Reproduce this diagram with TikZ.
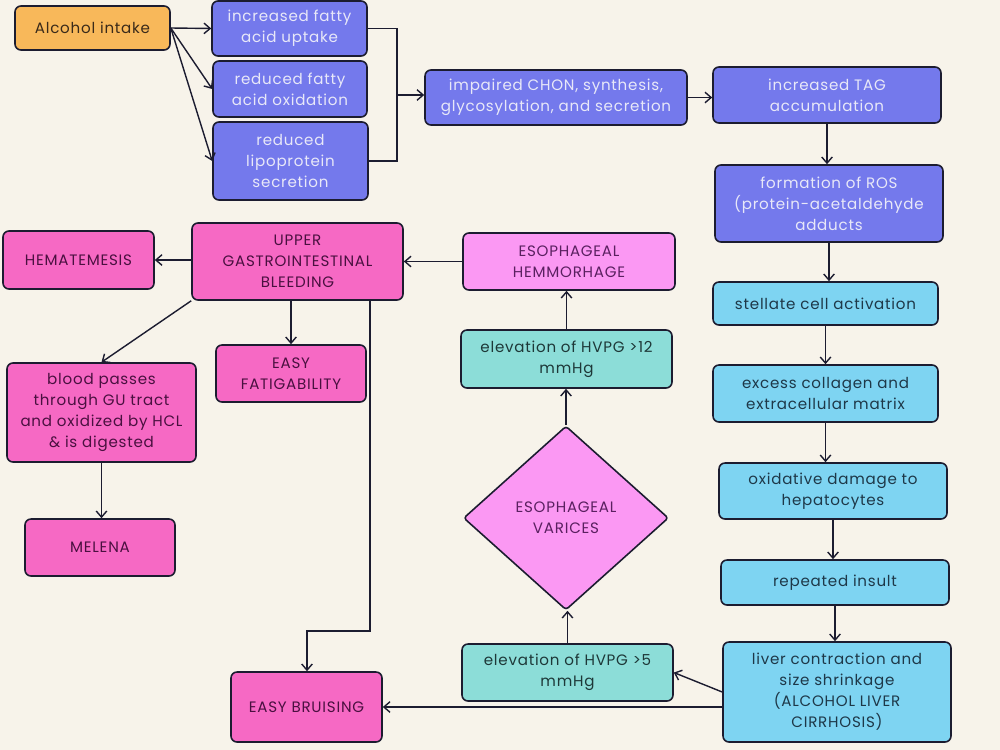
\documentclass[tikz,border=0pt]{standalone}
\usepackage{fontspec}
\setmainfont[LetterSpace=5]{Poppins}
\usetikzlibrary{arrows.meta,shapes.geometric}
\definecolor{bg}{HTML}{F7F3EA}
\definecolor{edge}{HTML}{1C1C30}
\definecolor{purpfill}{HTML}{7479EC}
\definecolor{purptext}{HTML}{E8E8F8}
\definecolor{orangefill}{HTML}{F8B85A}
\definecolor{orangetext}{HTML}{3A2A1A}
\definecolor{bluefill}{HTML}{7ED4F2}
\definecolor{bluetext}{HTML}{1E3848}
\definecolor{tealfill}{HTML}{8CDDD8}
\definecolor{tealtext}{HTML}{1E3838}
\definecolor{magfill}{HTML}{F669C4}
\definecolor{magtext}{HTML}{4A1040}
\definecolor{pinkfill}{HTML}{FB98F3}
\definecolor{pinktext}{HTML}{5A2060}
\tikzset{
  box/.style={draw=edge, line width=0.9pt, rounded corners=0.12cm, align=center,
    inner sep=1pt, font=\fontsize{8.6}{11.9}\selectfont},
  purpbox/.style={box, fill=purpfill, text=purptext},
  orangebox/.style={box, fill=orangefill, text=orangetext},
  bluebox/.style={box, fill=bluefill, text=bluetext},
  tealbox/.style={box, fill=tealfill, text=tealtext},
  magbox/.style={box, fill=magfill, text=magtext},
  pinkbox/.style={box, fill=pinkfill, text=pinktext},
  conn/.style={draw=edge, line width=0.8pt},
  arr/.style={conn, -{Straight Barb[length=3.5pt,width=6pt]}},
}
\newcommand\bx[7]{%
  \node[#6, minimum width={(#4-#2)*0.02cm}, minimum height={(#5-#3)*0.02cm}]
    (#1) at ({(#2+#4)/2},{(#3+#5)/2}) {#7};}
\begin{document}
\begin{tikzpicture}[x=0.02cm,y=-0.02cm]
\fill[bg] (0,0) rectangle (1000,750);
\useasboundingbox (0,0) rectangle (1000,750);

% top row
\bx{alc}{15}{6}{170}{50}{orangebox}{Alcohol intake}
\bx{fa1}{212}{1}{367}{56}{purpbox}{increased fatty\\acid uptake}
\bx{fa2}{213}{61}{367}{117}{purpbox}{reduced fatty\\acid oxidation}
\bx{fa3}{213}{122}{368}{200}{purpbox}{reduced\\lipoprotein\\secretion}
\bx{chon}{425}{70}{687}{125}{purpbox}{impaired CHON, synthesis,\\glycosylation, and secretion}
\bx{tag}{713}{67}{941}{123}{purpbox}{increased TAG\\accumulation}
\bx{ros}{715}{165}{943}{242}{purpbox}{formation of ROS\\(protein-acetaldehyde\\adducts}

% right column
\bx{stel}{713}{282}{938}{325}{bluebox}{stellate cell activation}
\bx{coll}{713}{365}{938}{422}{bluebox}{excess collagen and\\extracellular matrix}
\bx{oxd}{719}{463}{947}{519}{bluebox}{oxidative damage to\\hepatocytes}
\bx{rep}{721}{560}{949}{605}{bluebox}{repeated insult}
\bx{liv}{723}{642}{951}{742}{bluebox}{liver contraction and\\size shrinkage\\(ALCOHOL LIVER\\CIRRHOSIS)}

% middle column
\bx{hv5}{462}{644}{673}{701}{tealbox}{elevation of HVPG >5\\mmHg}
\node[draw=edge, line width=0.9pt, fill=pinkfill, text=pinktext, diamond, rounded corners=0.06cm,
  minimum width=4.1cm, minimum height=3.68cm, inner sep=0pt, align=center,
  font=\fontsize{8.6}{11.9}\selectfont] (var) at (566,518) {ESOPHAGEAL\\VARICES};
\bx{hv12}{461}{330}{672}{388}{tealbox}{elevation of HVPG >12\\mmHg}
\bx{hem}{463}{233}{675}{290}{pinkbox}{ESOPHAGEAL\\HEMMORHAGE}

% left part
\bx{ugib}{192}{223}{403}{300}{magbox}{UPPER\\GASTROINTESTINAL\\BLEEDING}
\bx{hema}{3}{231}{154}{289}{magbox}{HEMATEMESIS}
\bx{fat}{216}{345}{366}{402}{magbox}{EASY\\FATIGABILITY}
\bx{blood}{7}{363}{196}{462}{magbox}{blood passes\\through GU tract\\and oxidized by HCL\\\& is digested}
\bx{mel}{25}{519}{175}{576}{magbox}{MELENA}
\bx{bru}{231}{672}{382}{742}{magbox}{EASY BRUISING}

% connectors: top
\draw[arr] (alc.east) -- (fa1.west);
\draw[arr] (alc.east) -- (fa2.west);
\draw[arr] (alc.east) -- (fa3.west);
\coordinate (br) at (397,95);
\draw[conn] (fa1.east) -| (br);
\draw[conn] (fa3.east) -| (br);
\draw[arr] (br) -- (br -| chon.west);
\draw[arr] (chon.east) -- (chon.east -| tag.west);
\draw[arr] (tag.south) -- (tag.south |- ros.north);
\draw[arr] (ros.south) -- (ros.south |- stel.north);
\draw[arr] (stel.south) -- (stel.south |- coll.north);
\draw[arr] (coll.south) -- (coll.south |- oxd.north);
\draw[arr] (oxd.south) -- (oxd.south |- rep.north);
\draw[arr] (rep.south) -- (rep.south |- liv.north);

% bottom / middle
\draw[arr] (liv.west) -- (hv5.east);
\draw[arr] (liv.west |- bru.east) -- (bru.east);
\draw[arr] (hv5.north) -- (hv5.north |- var.south);
\draw[arr] (var.north) -- (var.north |- hv12.south);
\draw[arr] (hv12.north) -- (hv12.north |- hem.south);
\draw[arr] (hem.west) -- (hem.west -| ugib.east);

% left
\draw[arr] (ugib.west |- hema.east) -- (hema.east);
\draw[arr] (fat.north |- ugib.south) -- (fat.north);
\draw[arr] (ugib.south west) -- (blood.north);
\draw[arr] (blood.south) -- (blood.south |- mel.north);
\coordinate (k1) at (370,631);
\coordinate (k2) at (307,631);
\draw[arr] (k1 |- ugib.south) -- (k1) -- (k2) -- (k2 |- bru.north);
\end{tikzpicture}
\end{document}
